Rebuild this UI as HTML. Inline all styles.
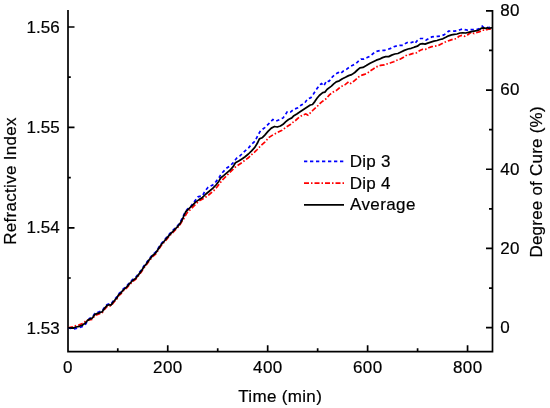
<!DOCTYPE html>
<html><head><meta charset="utf-8"><title>Refractive Index vs Time</title>
<style>html,body{margin:0;padding:0;background:#fff;}svg{display:block;}</style></head>
<body><svg width="550" height="408" viewBox="0 0 550 408">
<path d="M68.0,10.75 V351.7 H492.5 V10.75" fill="none" stroke="#000" stroke-width="1.7" stroke-linejoin="miter" stroke-linecap="square"/>
<path d="M68.0,328.20 h6.5 M68.0,278.00 h2.8 M68.0,227.80 h6.5 M68.0,177.60 h2.8 M68.0,127.40 h6.5 M68.0,77.20 h2.8 M68.0,27.00 h6.5 M492.5,327.70 h-6.5 M492.5,288.09 h-3.5 M492.5,248.47 h-6.5 M492.5,208.86 h-3.5 M492.5,169.25 h-6.5 M492.5,129.64 h-3.5 M492.5,90.03 h-6.5 M492.5,50.41 h-3.5 M492.5,10.80 h-6.5 M117.77,351.7 v-3.5 M167.74,351.7 v-6.5 M217.71,351.7 v-3.5 M267.68,351.7 v-6.5 M317.65,351.7 v-3.5 M367.62,351.7 v-6.5 M417.59,351.7 v-3.5 M467.56,351.7 v-6.5" fill="none" stroke="#000" stroke-width="1.7"/>
<polyline points="68.0,327.8 73.5,326.7 76.2,325.5 79.3,324.8 82.5,323.6 85.6,321.2 87.2,320.1 89.5,319.9 91.9,319.4 93.5,317.5 94.8,315.4 98.5,314.1 102.2,312.7 104.1,309.9 106.9,306.6 109.2,305.7 111.1,306.1 113.0,303.3 115.3,300.6 117.1,298.7 118.5,295.9 120.9,294.0 122.9,291.3 126.8,287.9 129.8,284.4 132.7,281.5 135.6,279.5 138.6,275.6 141.5,271.7 144.0,267.8 146.4,264.8 148.4,261.9 150.8,258.9 152.3,256.8 155.6,254.1 158.2,250.3 160.9,246.0 164.2,242.2 167.4,238.4 170.7,234.6 173.9,231.4 177.1,228.2 179.8,224.9 182.0,221.3 183.4,219.4 186.8,213.2 190.1,209.8 193.5,206.4 196.9,203.0 200.3,200.2 203.6,198.5 207.0,196.3 210.4,193.5 213.8,190.6 217.2,186.7 219.4,183.9 222.5,179.9 225.7,176.7 228.9,173.4 232.2,170.2 235.4,167.0 238.7,164.8 241.9,162.7 245.1,160.0 248.4,157.8 251.6,154.6 254.8,151.9 257.3,149.5 260.5,145.9 264.8,142.1 269.1,137.3 273.4,134.6 277.7,132.4 282.0,130.3 286.4,127.0 290.7,124.3 292.5,122.6 295.5,120.5 299.0,117.4 302.4,115.2 305.8,114.0 308.0,115.2 310.3,112.9 313.6,109.5 317.0,106.6 319.8,103.7 322.7,101.2 326.0,98.8 329.4,94.9 331.5,93.2 333.1,92.1 336.2,90.6 339.3,88.0 342.4,85.9 345.5,84.4 348.6,81.8 350.7,83.4 353.7,81.3 356.8,78.7 358.9,76.7 362.0,75.1 365.1,74.1 368.2,72.5 370.1,71.0 373.2,69.0 376.3,66.9 380.4,65.4 384.5,64.8 387.6,63.8 390.7,62.8 393.8,61.7 396.9,60.2 400.0,59.2 403.1,57.6 404.8,56.3 407.1,55.0 410.2,54.4 413.3,53.4 416.4,52.9 419.4,50.8 422.5,49.3 425.6,49.3 428.7,47.7 431.8,46.7 434.9,46.2 438.0,45.7 441.1,44.1 443.8,42.6 447.7,41.0 450.5,40.1 453.3,39.2 456.2,38.7 459.0,36.3 461.8,35.4 464.7,36.3 467.5,34.9 469.4,33.5 471.3,32.1 474.1,33.5 477.0,32.5 479.8,31.6 482.6,30.2 485.5,30.2 488.3,29.2 491.1,28.8 492.3,28.6" fill="none" stroke="#ff0000" stroke-width="1.7" stroke-dasharray="5 2 1.5 2"/>
<polyline points="68.0,327.8 73.5,328.9 76.2,328.4 79.3,327.7 82.5,326.5 85.6,324.1 87.2,321.5 89.5,318.5 91.9,317.4 93.5,315.5 94.8,313.4 98.5,312.1 102.2,310.7 104.1,307.9 106.9,304.6 109.2,303.7 111.1,304.1 113.0,301.3 115.3,298.6 117.1,296.7 118.5,293.9 120.9,292.0 122.9,289.3 126.8,285.9 129.8,282.4 132.7,279.5 135.6,277.5 138.6,273.6 141.5,269.7 144.0,265.8 146.4,262.8 148.4,259.9 150.8,256.9 152.3,254.8 155.6,252.1 158.2,248.3 160.9,244.0 164.2,240.2 167.4,236.4 170.7,232.6 173.9,229.4 177.1,226.2 179.8,222.9 182.3,218.2 185.1,212.0 187.9,208.7 191.3,205.8 194.6,201.3 198.0,196.8 202.5,195.7 205.3,190.6 208.2,187.3 212.7,185.0 216.0,181.6 219.4,177.1 220.8,174.5 223.6,171.3 226.8,168.0 230.0,165.9 233.3,162.7 236.5,158.3 239.7,156.2 244.0,151.9 248.4,148.1 251.6,144.3 254.9,141.3 258.3,134.6 260.5,130.8 264.8,127.6 269.1,123.3 272.9,119.5 276.1,121.1 279.9,119.5 283.1,117.9 285.8,114.1 287.4,111.4 290.7,111.9 293.9,109.3 297.9,107.8 301.3,105.0 304.6,103.3 307.5,98.8 310.8,97.7 313.6,93.8 316.5,89.3 319.8,84.8 321.5,83.6 323.8,85.9 326.6,80.8 328.9,81.4 331.1,79.1 332.1,77.2 335.2,74.1 338.3,72.5 340.4,73.6 343.4,71.0 346.5,69.4 349.6,66.9 352.7,65.3 355.8,63.8 357.9,61.7 361.0,59.1 364.0,59.1 367.1,57.6 370.1,56.1 373.2,53.5 376.3,51.4 380.4,50.4 384.5,50.4 387.6,49.4 390.7,48.4 393.8,46.8 396.9,45.8 400.0,45.3 403.1,45.3 405.5,43.4 408.1,42.1 411.2,42.6 413.8,41.6 415.3,43.1 417.4,40.5 420.5,38.5 423.1,38.5 426.1,40.0 428.7,38.5 431.8,36.9 434.9,36.4 438.0,36.4 441.1,35.9 443.8,34.9 446.7,33.0 448.6,31.1 451.5,30.9 454.3,31.1 457.1,30.7 460.0,29.7 462.3,29.0 464.7,29.7 467.5,30.2 470.4,29.7 473.2,29.7 476.0,29.7 478.9,28.8 480.8,27.3 482.2,26.2 484.1,27.8 486.4,27.3 488.8,27.8 490.7,26.4 492.3,26.6" fill="none" stroke="#0000ff" stroke-width="1.7" stroke-dasharray="3.3 2.7"/>
<polyline points="68.0,327.8 73.5,327.8 76.2,327.0 79.3,326.3 82.5,325.1 85.6,322.7 87.2,320.8 89.5,319.2 91.9,318.4 93.5,316.5 94.8,314.4 98.5,313.1 102.2,311.7 104.1,308.9 106.9,305.6 109.2,304.7 111.1,305.1 113.0,302.3 115.3,299.6 117.1,297.7 118.5,294.9 120.9,293.0 122.9,290.3 126.8,286.9 129.8,283.4 132.7,280.5 135.6,278.5 138.6,274.6 141.5,270.7 144.0,266.8 146.4,263.8 148.4,260.9 150.8,257.9 152.3,255.8 155.6,253.1 158.2,249.3 160.9,245.0 164.2,241.2 167.4,237.4 170.7,233.6 173.9,230.4 177.1,227.2 179.8,223.9 182.0,220.3 183.6,216.5 185.6,212.0 189.0,208.7 192.4,205.3 195.8,201.9 199.1,199.6 202.5,197.4 205.9,194.0 209.3,191.2 212.7,188.4 216.0,185.0 218.9,181.2 220.6,178.0 223.6,175.6 226.8,172.9 230.0,170.2 233.3,166.4 235.4,162.7 238.7,161.0 241.9,158.9 245.1,156.7 248.4,154.0 251.6,150.8 254.8,147.4 257.3,143.3 259.4,138.9 262.1,137.8 264.8,135.1 268.0,131.4 271.3,128.1 274.5,126.5 277.2,127.0 280.4,126.0 283.1,124.3 285.8,121.6 288.5,119.5 291.8,117.9 293.9,115.7 296.8,114.0 300.1,111.8 303.5,109.5 306.9,107.3 310.3,105.0 312.5,104.5 314.8,101.6 317.0,98.3 319.3,95.5 322.7,92.6 324.9,92.1 327.2,89.3 329.4,87.6 331.4,86.1 333.7,83.9 336.2,81.8 339.3,80.8 342.4,78.7 345.5,77.2 348.6,75.6 351.7,74.6 354.8,72.5 357.4,70.0 359.9,67.9 363.0,67.4 366.3,65.6 370.1,63.3 373.2,61.7 376.3,60.2 379.4,59.2 382.5,57.6 385.6,56.6 388.7,56.6 391.7,55.1 394.8,54.0 397.9,53.5 401.0,52.0 404.3,50.4 408.1,49.0 411.2,48.3 414.3,47.2 417.4,46.2 420.0,44.1 422.5,43.6 425.1,44.1 427.7,43.1 430.8,42.1 433.9,41.1 437.0,40.5 440.0,39.5 442.8,38.8 445.8,37.3 448.6,35.8 451.5,34.9 454.3,34.4 457.1,34.0 460.0,33.0 462.8,32.8 465.6,33.0 468.5,32.3 471.3,31.6 474.1,31.1 477.0,30.7 479.3,29.7 481.7,28.1 483.6,27.8 485.5,28.3 487.4,27.8 489.3,28.5 491.1,27.8 492.3,27.9" fill="none" stroke="#000" stroke-width="1.75" stroke-linejoin="round"/>
<g font-family="'Liberation Sans', sans-serif" font-size="17" fill="#000" stroke="#000" stroke-width="0.2"><text x="59.6" y="333.7" text-anchor="end">1.53</text><text x="59.6" y="233.3" text-anchor="end">1.54</text><text x="59.6" y="132.9" text-anchor="end">1.55</text><text x="59.6" y="32.5" text-anchor="end">1.56</text><text x="500.3" y="333.0" letter-spacing="0.3">0</text><text x="500.3" y="253.8" letter-spacing="0.3">20</text><text x="500.3" y="174.6" letter-spacing="0.3">40</text><text x="500.3" y="95.3" letter-spacing="0.3">60</text><text x="500.3" y="16.1" letter-spacing="0.3">80</text><text x="68.0" y="372.6" text-anchor="middle" letter-spacing="0.4">0</text><text x="167.9" y="372.6" text-anchor="middle" letter-spacing="0.4">200</text><text x="267.9" y="372.6" text-anchor="middle" letter-spacing="0.4">400</text><text x="367.8" y="372.6" text-anchor="middle" letter-spacing="0.4">600</text><text x="467.8" y="372.6" text-anchor="middle" letter-spacing="0.4">800</text><text x="280.2" y="401.5" text-anchor="middle" letter-spacing="0.33">Time (min)</text><text transform="translate(16.3,181.0) rotate(-90)" text-anchor="middle" letter-spacing="0.3">Refractive Index</text><text transform="translate(542.0,181.9) rotate(-90)" text-anchor="middle" letter-spacing="0.22">Degree of Cure (%)</text><text x="349.8" y="167.4" letter-spacing="0.25">Dip 3</text><text x="349.8" y="189.0" letter-spacing="0.25">Dip 4</text><text x="350" y="210.0" letter-spacing="0.4">Average</text></g>
<path d="M304,161.4 H344" stroke="#0000ff" stroke-width="1.6" stroke-dasharray="3.3 2.7"/>
<path d="M304,183.1 H344" stroke="#ff0000" stroke-width="1.6" stroke-dasharray="5 2 1.5 2"/>
<path d="M304,204.9 H344" stroke="#000" stroke-width="1.6"/>
</svg></body></html>
